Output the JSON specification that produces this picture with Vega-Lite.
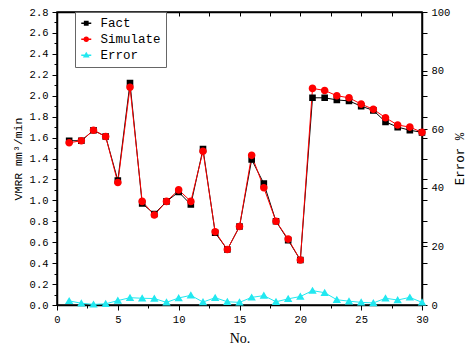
{
  "$schema": "https://vega.github.io/schema/vega-lite/v6.json",
  "width": 365,
  "height": 293,
  "autosize": {"type": "none"},
  "padding": {"left": 57, "top": 12, "right": 52, "bottom": 48},
  "background": "white",
  "config": {
    "view": {"stroke": "black", "strokeWidth": 1.5},
    "axis": {
      "grid": false,
      "domainColor": "black",
      "domainWidth": 1.5,
      "tickColor": "black",
      "tickWidth": 1,
      "labelFont": "Liberation Mono",
      "labelFontSize": 10.5,
      "labelColor": "black",
      "labelOverlap": false,
      "labelFlush": false,
      "titleFont": "Liberation Mono",
      "titleFontSize": 12,
      "titleFontWeight": "normal",
      "titleColor": "black"
    },
    "legend": {
      "title": null,
      "orient": "none",
      "legendX": 18,
      "legendY": 0,
      "direction": "vertical",
      "symbolOpacity": 1,
      "symbolStrokeWidth": 1.5,
      "labelFont": "Liberation Mono",
      "labelFontSize": 12.5,
      "labelColor": "black",
      "strokeColor": "#666666",
      "fillColor": "white",
      "padding": 5,
      "rowPadding": 3,
      "labelOffset": 8
    }
  },
  "data": {
    "values": [
      {"no": 1, "series": "Fact", "v": 1.57}, {"no": 2, "series": "Fact", "v": 1.57}, {"no": 3, "series": "Fact", "v": 1.67},
      {"no": 4, "series": "Fact", "v": 1.61}, {"no": 5, "series": "Fact", "v": 1.19}, {"no": 6, "series": "Fact", "v": 2.12},
      {"no": 7, "series": "Fact", "v": 0.97}, {"no": 8, "series": "Fact", "v": 0.87}, {"no": 9, "series": "Fact", "v": 0.99},
      {"no": 10, "series": "Fact", "v": 1.08}, {"no": 11, "series": "Fact", "v": 0.96}, {"no": 12, "series": "Fact", "v": 1.49},
      {"no": 13, "series": "Fact", "v": 0.69}, {"no": 14, "series": "Fact", "v": 0.53}, {"no": 15, "series": "Fact", "v": 0.75},
      {"no": 16, "series": "Fact", "v": 1.39}, {"no": 17, "series": "Fact", "v": 1.16}, {"no": 18, "series": "Fact", "v": 0.8},
      {"no": 19, "series": "Fact", "v": 0.62}, {"no": 20, "series": "Fact", "v": 0.43}, {"no": 21, "series": "Fact", "v": 1.98},
      {"no": 22, "series": "Fact", "v": 1.98}, {"no": 23, "series": "Fact", "v": 1.96}, {"no": 24, "series": "Fact", "v": 1.95},
      {"no": 25, "series": "Fact", "v": 1.9}, {"no": 26, "series": "Fact", "v": 1.86}, {"no": 27, "series": "Fact", "v": 1.75},
      {"no": 28, "series": "Fact", "v": 1.7}, {"no": 29, "series": "Fact", "v": 1.67}, {"no": 30, "series": "Fact", "v": 1.65},
      {"no": 1, "series": "Simulate", "v": 1.55}, {"no": 2, "series": "Simulate", "v": 1.57}, {"no": 3, "series": "Simulate", "v": 1.67},
      {"no": 4, "series": "Simulate", "v": 1.61}, {"no": 5, "series": "Simulate", "v": 1.17}, {"no": 6, "series": "Simulate", "v": 2.08},
      {"no": 7, "series": "Simulate", "v": 0.99}, {"no": 8, "series": "Simulate", "v": 0.86}, {"no": 9, "series": "Simulate", "v": 0.99},
      {"no": 10, "series": "Simulate", "v": 1.1}, {"no": 11, "series": "Simulate", "v": 0.99}, {"no": 12, "series": "Simulate", "v": 1.47},
      {"no": 13, "series": "Simulate", "v": 0.7}, {"no": 14, "series": "Simulate", "v": 0.53}, {"no": 15, "series": "Simulate", "v": 0.75},
      {"no": 16, "series": "Simulate", "v": 1.43}, {"no": 17, "series": "Simulate", "v": 1.12}, {"no": 18, "series": "Simulate", "v": 0.8},
      {"no": 19, "series": "Simulate", "v": 0.63}, {"no": 20, "series": "Simulate", "v": 0.43}, {"no": 21, "series": "Simulate", "v": 2.07},
      {"no": 22, "series": "Simulate", "v": 2.05}, {"no": 23, "series": "Simulate", "v": 2.0}, {"no": 24, "series": "Simulate", "v": 1.98},
      {"no": 25, "series": "Simulate", "v": 1.92}, {"no": 26, "series": "Simulate", "v": 1.87}, {"no": 27, "series": "Simulate", "v": 1.79},
      {"no": 28, "series": "Simulate", "v": 1.72}, {"no": 29, "series": "Simulate", "v": 1.7}, {"no": 30, "series": "Simulate", "v": 1.65},
      {"no": 1, "series": "Error", "v": 1.4}, {"no": 2, "series": "Error", "v": 0.6}, {"no": 3, "series": "Error", "v": 0.2},
      {"no": 4, "series": "Error", "v": 0.4}, {"no": 5, "series": "Error", "v": 1.5}, {"no": 6, "series": "Error", "v": 2.5},
      {"no": 7, "series": "Error", "v": 2.3}, {"no": 8, "series": "Error", "v": 2.2}, {"no": 9, "series": "Error", "v": 0.9},
      {"no": 10, "series": "Error", "v": 2.4}, {"no": 11, "series": "Error", "v": 3.3}, {"no": 12, "series": "Error", "v": 1.0},
      {"no": 13, "series": "Error", "v": 2.5}, {"no": 14, "series": "Error", "v": 1.1}, {"no": 15, "series": "Error", "v": 0.9},
      {"no": 16, "series": "Error", "v": 2.6}, {"no": 17, "series": "Error", "v": 3.2}, {"no": 18, "series": "Error", "v": 1.1},
      {"no": 19, "series": "Error", "v": 2.1}, {"no": 20, "series": "Error", "v": 2.9}, {"no": 21, "series": "Error", "v": 4.9},
      {"no": 22, "series": "Error", "v": 4.2}, {"no": 23, "series": "Error", "v": 1.8}, {"no": 24, "series": "Error", "v": 1.3},
      {"no": 25, "series": "Error", "v": 0.9}, {"no": 26, "series": "Error", "v": 0.7}, {"no": 27, "series": "Error", "v": 2.3},
      {"no": 28, "series": "Error", "v": 1.7}, {"no": 29, "series": "Error", "v": 2.6}, {"no": 30, "series": "Error", "v": 0.9}
    ]
  },
  "layer": [
    {
      "transform": [{"filter": "datum.series !== 'Error'"}],
      "encoding": {
        "x": {
          "field": "no", "type": "quantitative",
          "scale": {"domain": [0, 30], "nice": false, "zero": false},
          "axis": {
            "orient": "bottom",
            "title": "No.",
            "titleFont": "Liberation Serif",
            "titleFontSize": 14,
            "titlePadding": 7,
            "values": [0, 2.5, 5, 7.5, 10, 12.5, 15, 17.5, 20, 22.5, 25, 27.5, 30],
            "labelExpr": "datum.value % 5 == 0 ? datum.value : ''",
            "tickSize": {"condition": {"test": "datum.value % 5 == 0", "value": 5}, "value": 3},
            "labelPadding": 4
          }
        },
        "y": {
          "field": "v", "type": "quantitative",
          "scale": {"domain": [0, 2.8], "nice": false, "zero": true},
          "axis": {
            "orient": "left",
            "title": "VMRR mm³/min",
            "titleFontSize": 11.5,
            "titlePadding": 6,
            "values": [0, 0.1, 0.2, 0.3, 0.4, 0.5, 0.6, 0.7, 0.8, 0.9, 1, 1.1, 1.2, 1.3, 1.4, 1.5, 1.6, 1.7, 1.8, 1.9, 2, 2.1, 2.2, 2.3, 2.4, 2.5, 2.6, 2.7, 2.8],
            "labelExpr": "round(datum.value * 10) % 2 == 0 ? format(datum.value, '.1f') : ''",
            "tickSize": {"condition": {"test": "round(datum.value * 10) % 2 == 0", "value": 5}, "value": 3},
            "labelPadding": 4
          }
        }
      },
      "layer": [
        {
          "mark": {"type": "line", "strokeWidth": 1},
          "encoding": {
            "stroke": {
              "field": "series", "type": "nominal",
              "scale": {"domain": ["Fact", "Simulate", "Error"], "range": ["#000000", "#ff0000", "#22e8f0"]}
            }
          }
        },
        {
          "mark": {"type": "point", "filled": true, "size": 400, "opacity": 1, "strokeWidth": 0},
          "encoding": {
            "color": {
              "field": "series", "type": "nominal",
              "scale": {"domain": ["Fact", "Simulate", "Error"], "range": ["#000000", "#ff0000", "#22e8f0"]}
            },
            "shape": {
              "field": "series", "type": "nominal",
              "scale": {
                "domain": ["Fact", "Simulate", "Error"],
                "range": [
                  "M-1,0H1M-0.33,-0.33H0.33V0.33H-0.33Z",
                  "M-1,0H1M-0.38,0A0.38,0.38,0,1,1,0.38,0A0.38,0.38,0,1,1,-0.38,0Z",
                  "M-1,0H1M0,-0.4L0.42,0.32H-0.42Z"
                ]
              }
            }
          }
        }
      ]
    },
    {
      "transform": [{"filter": "datum.series === 'Error'"}],
      "encoding": {
        "x": {
          "field": "no", "type": "quantitative",
          "scale": {"domain": [0, 30], "nice": false, "zero": false},
          "axis": {
            "orient": "top",
            "title": null,
            "labels": false,
            "values": [0, 2.5, 5, 7.5, 10, 12.5, 15, 17.5, 20, 22.5, 25, 27.5, 30],
            "tickSize": -4
          }
        },
        "y": {
          "field": "v", "type": "quantitative",
          "scale": {"domain": [0, 100], "nice": false, "zero": true},
          "axis": {
            "orient": "right",
            "title": "Error %",
            "titleFontSize": 12.5,
            "titleAngle": 270,
            "titleBaseline": "top",
            "titlePadding": 4,
            "values": [0, 7.142857, 14.285714, 20, 21.428571, 28.571429, 35.714286, 40, 42.857143, 50, 57.142857, 60, 64.285714, 71.428571, 78.571429, 80, 85.714286, 92.857143, 100],
            "labelExpr": "abs(datum.value - round(datum.value / 20) * 20) < 0.01 ? round(datum.value) : ''",
            "tickSize": 5,
            "labelPadding": 4
          }
        }
      },
      "layer": [
        {
          "mark": {"type": "line", "strokeWidth": 1},
          "encoding": {
            "stroke": {
              "field": "series", "type": "nominal",
              "scale": {"domain": ["Fact", "Simulate", "Error"], "range": ["#000000", "#ff0000", "#22e8f0"]}
            }
          }
        },
        {
          "mark": {"type": "point", "filled": true, "size": 400, "opacity": 1, "strokeWidth": 0},
          "encoding": {
            "color": {
              "field": "series", "type": "nominal",
              "scale": {"domain": ["Fact", "Simulate", "Error"], "range": ["#000000", "#ff0000", "#22e8f0"]}
            },
            "shape": {
              "field": "series", "type": "nominal",
              "scale": {
                "domain": ["Fact", "Simulate", "Error"],
                "range": [
                  "M-1,0H1M-0.33,-0.33H0.33V0.33H-0.33Z",
                  "M-1,0H1M-0.38,0A0.38,0.38,0,1,1,0.38,0A0.38,0.38,0,1,1,-0.38,0Z",
                  "M-1,0H1M0,-0.4L0.42,0.32H-0.42Z"
                ]
              }
            }
          }
        }
      ]
    }
  ],
  "resolve": {"scale": {"y": "independent"}, "axis": {"x": "independent", "y": "independent"}}
}
